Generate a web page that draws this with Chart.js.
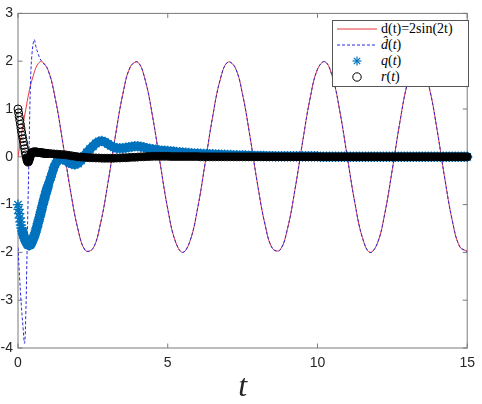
<!DOCTYPE html>
<html>
<head>
<meta charset="utf-8">
<script src="https://cdn.jsdelivr.net/npm/chart.js@4.4.0/dist/chart.umd.min.js"></script>
<style>
html, body { margin: 0; padding: 0; background: #fff; }
#wrap { position: relative; width: 482px; height: 404px; }
#legend {
    position: absolute; left: 332px; top: 20px; width: 135px; height: 65px;
    border: 1px solid #555; background: #fff;
    font-family: 'Liberation Serif', 'Times New Roman', serif; font-size: 14px; color: #000;
}
#legend .row { position: absolute; left: 0; width: 100%; height: 16px; }
#legend svg { position: absolute; left: 3px; top: 0; }
#legend span { position: absolute; left: 48px; top: 0; line-height: 16px; white-space: nowrap; }
</style>
</head>
<body>
<div id="wrap">
    <canvas id="chart" width="482" height="404"></canvas>
    <div id="legend">
        <div class="row" style="top:0px">
            <svg width="42" height="16"><line x1="1" y1="8" x2="41" y2="8" stroke="#e8383b" stroke-width="1"/></svg>
            <span>d(t)=2sin(2t)</span>
        </div>
        <div class="row" style="top:16px">
            <svg width="42" height="16"><line x1="1" y1="8" x2="41" y2="8" stroke="#2a2ae0" stroke-width="1" stroke-dasharray="3 2"/></svg>
            <span><i>d&#770;</i>(<i>t</i>)</span>
        </div>
        <div class="row" style="top:32px">
            <svg width="42" height="16">
                <g stroke="#0072BD" stroke-width="1.2">
                    <line x1="16.5" y1="8" x2="25.5" y2="8"/>
                    <line x1="21" y1="3.5" x2="21" y2="12.5"/>
                    <line x1="17.8" y1="4.8" x2="24.2" y2="11.2"/>
                    <line x1="17.8" y1="11.2" x2="24.2" y2="4.8"/>
                </g>
            </svg>
            <span><i>q</i>(<i>t</i>)</span>
        </div>
        <div class="row" style="top:48px">
            <svg width="42" height="16"><circle cx="21" cy="8" r="4.2" fill="none" stroke="#000" stroke-width="1"/></svg>
            <span><i>r</i>(<i>t</i>)</span>
        </div>
    </div>
</div>
<script>
// sampling grid helper (time axis only)
function steps(a, b, h) {
    const out = [];
    const n = Math.round((b - a) / h);
    for (let i = 0; i <= n; i++) out.push(Math.round((a + i * h) * 100) / 100);
    return out;
}

// d(t) = 2sin(2t), read every 0.25 s
const tD = steps(0, 15, 0.25);
const dVals = [0, 0.96, 1.68, 1.99, 1.82, 1.20, 0.28, -0.70, -1.51, -1.96,
    -1.92, -1.41, -0.56, 0.43, 1.31, 1.88, 1.98, 1.60, 0.82, -0.15,
    -1.09, -1.76, -2.00, -1.75, -1.07, -0.13, 0.84, 1.61, 1.98, 1.87,
    1.30, 0.41, -0.58, -1.42, -1.92, -1.95, -1.50, -0.68, 0.30, 1.21,
    1.83, 1.99, 1.67, 0.94, -0.02, -0.97, -1.69, -2.00, -1.81, -1.18,
    -0.26, 0.72, 1.53, 1.96, 1.91, 1.40, 0.54, -0.45, -1.33, -1.88, -1.98];

// d-hat(t): transient at the start, then it follows d(t) from t = 1
const tHatStart = [0, 0.06, 0.11, 0.16, 0.22, 0.26, 0.29, 0.33, 0.36, 0.41, 0.46, 0.54, 0.60, 0.66, 0.73, 0.80];
const dHatStart = [-1.9, -2.6, -3.1, -3.5, -3.9, -3.3, -2.4, -1.1, -0.2, 1.38, 2.1, 2.45, 2.3, 2.18, 2.06, 1.99];

// q(t) and r(t): fine samples on [0, 1], coarser after
const tFine = steps(0, 1, 0.02);
const tCoarse = steps(1.1, 15, 0.1);

const qFine = [-1.00, -1.10, -1.19, -1.28, -1.36, -1.43, -1.49, -1.55, -1.60, -1.64,
    -1.68, -1.71, -1.74, -1.77, -1.79, -1.81, -1.83, -1.84, -1.85, -1.85,
    -1.84, -1.83, -1.81, -1.78, -1.75, -1.72, -1.69, -1.66, -1.62, -1.58,
    -1.54, -1.49, -1.45, -1.40, -1.35, -1.31, -1.26, -1.21, -1.16, -1.11,
    -1.06, -1.01, -0.96, -0.91, -0.87, -0.82, -0.78, -0.73, -0.69, -0.65, -0.61];
const qCoarse = [-0.42, -0.22, -0.09, -0.04, -0.05, -0.08, -0.12, -0.15, -0.16, -0.14,
    -0.08, 0.01, 0.09, 0.16, 0.22, 0.28, 0.32, 0.33, 0.31, 0.27,
    0.23, 0.20, 0.18, 0.18, 0.18, 0.19, 0.20, 0.21, 0.22, 0.22,
    0.21, 0.20, 0.18, 0.17, 0.16, 0.15, 0.14, 0.13, 0.13, 0.12,
    0.115, 0.11, 0.10, 0.095, 0.09, 0.085, 0.08, 0.075, 0.07, 0.07,
    0.065, 0.06, 0.06, 0.055, 0.055, 0.05, 0.05, 0.045, 0.045, 0.04,
    0.04, 0.035, 0.035, 0.03, 0.03, 0.03, 0.025, 0.025, 0.02, 0.02,
    0.02, 0.02, 0.015, 0.015, 0.015, 0.01, 0.01, 0.01, 0.01, 0.01,
    0.01, 0.01, 0.01, 0.01, 0.01, 0.01, 0.01, 0.01, 0.01, 0.01,
    0, 0, 0, 0, 0, 0, 0, 0, 0, 0,
    0, 0, 0, 0, 0, 0, 0, 0, 0, 0,
    0, 0, 0, 0, 0, 0, 0, 0, 0, 0,
    0, 0, 0, 0, 0, 0, 0, 0, 0, 0,
    0, 0, 0, 0, 0, 0, 0, 0, 0, 0];

const rFine = [1.00, 0.92, 0.84, 0.76, 0.68, 0.60, 0.52, 0.45, 0.38, 0.31,
    0.24, 0.17, 0.10, 0.04, -0.02, -0.07, -0.10, -0.11, -0.09, -0.05,
    -0.01, 0.03, 0.06, 0.08, 0.09, 0.10, 0.10, 0.10, 0.10, 0.10,
    0.10, 0.10, 0.095, 0.095, 0.09, 0.09, 0.09, 0.085, 0.085, 0.085,
    0.08, 0.08, 0.08, 0.075, 0.075, 0.075, 0.07, 0.07, 0.07, 0.07, 0.07];
const rCoarse = [0.065, 0.06, 0.055, 0.05, 0.045, 0.04, 0.03, 0.02, 0.01, 0.0,
    -0.005, -0.01, -0.015, -0.02, -0.02, -0.025, -0.025, -0.03, -0.03, -0.03,
    -0.03, -0.03, -0.025, -0.025, -0.02, -0.02, -0.015, -0.01, -0.01, -0.005,
    0, 0, 0.005, 0.005, 0.01, 0.01, 0.01, 0.01, 0.01, 0.01,
    0.005, 0.005, 0.005, 0.005, 0.005, 0.005, 0.005, 0.005, 0.005, 0.005,
    0, 0, 0, 0, 0, 0, 0, 0, 0, 0,
    0, 0, 0, 0, 0, 0, 0, 0, 0, 0,
    0, 0, 0, 0, 0, 0, 0, 0, 0, 0,
    0, 0, 0, 0, 0, 0, 0, 0, 0, 0,
    0, 0, 0, 0, 0, 0, 0, 0, 0, 0,
    0, 0, 0, 0, 0, 0, 0, 0, 0, 0,
    0, 0, 0, 0, 0, 0, 0, 0, 0, 0,
    0, 0, 0, 0, 0, 0, 0, 0, 0, 0,
    0, 0, 0, 0, 0, 0, 0, 0, 0, 0];

// axis ranges / ticks
const xTicks = [0, 5, 10, 15];
const yTicks = [-4, -3, -2, -1, 0, 1, 2, 3];

const zip = (xs, ys) => xs.map((x, i) => ({ x: x, y: ys[i] }));

const dData = zip(tD, dVals);
const dHatData = zip(tHatStart, dHatStart).concat(dData.filter(p => p.x >= 1));
const qData = zip(tFine.concat(tCoarse), qFine.concat(qCoarse));
const rData = zip(tFine.concat(tCoarse), rFine.concat(rCoarse));

const blueQ = '#0072BD';
const axisGray = '#7a7a7a';
const textColor = '#262626';

// dense markers form a band: fill it with a thick line,
// except in the fine part where consecutive markers are clearly apart
function bandColor(color) {
    return (ctx) => {
        const dy = Math.abs(ctx.p1.y - ctx.p0.y);
        const dx = Math.abs(ctx.p1.x - ctx.p0.x);
        return (dy > 2.7 && dx < 1.5) ? 'rgba(0,0,0,0)' : color;
    };
}

// box around the plot with inward ticks (MATLAB style)
const boxPlugin = {
    id: 'boxPlugin',
    beforeDatasetsDraw(chart) {
        const { ctx, chartArea: a, scales } = chart;
        const len = 4.5;
        ctx.save();
        ctx.strokeStyle = axisGray;
        ctx.lineWidth = 1;
        ctx.strokeRect(a.left, a.top, a.right - a.left, a.bottom - a.top);
        ctx.beginPath();
        xTicks.forEach(v => {
            const px = scales.x.getPixelForValue(v);
            ctx.moveTo(px, a.bottom); ctx.lineTo(px, a.bottom - len);
            ctx.moveTo(px, a.top); ctx.lineTo(px, a.top + len);
        });
        yTicks.forEach(v => {
            const py = scales.y.getPixelForValue(v);
            ctx.moveTo(a.left, py); ctx.lineTo(a.left + len, py);
            ctx.moveTo(a.right, py); ctx.lineTo(a.right - len, py);
        });
        ctx.stroke();
        ctx.restore();
    }
};

const chart = new Chart(document.getElementById('chart').getContext('2d'), {
    type: 'line',
    data: {
        datasets: [
            {
                label: 'd(t)=2sin(2t)',
                data: dData,
                borderColor: '#e8383b',
                borderWidth: 1,
                pointRadius: 0,
                tension: 0.4,
                order: 4
            },
            {
                label: 'd-hat(t)',
                data: dHatData,
                borderColor: '#2a2ae0',
                borderWidth: 1,
                borderDash: [3, 2],
                pointRadius: 0,
                tension: 0.4,
                order: 3
            },
            {
                label: 'q(t)',
                data: qData,
                showLine: true,
                borderWidth: 9,
                borderCapStyle: 'round',
                borderJoinStyle: 'round',
                segment: { borderColor: bandColor(blueQ) },
                borderColor: blueQ,
                pointStyle: 'star',
                pointRadius: 5.2,
                pointBorderWidth: 1.3,
                pointBorderColor: blueQ,
                pointBackgroundColor: blueQ,
                tension: 0,
                clip: false,
                order: 2
            },
            {
                label: 'r(t)',
                data: rData,
                showLine: true,
                borderWidth: 7,
                borderCapStyle: 'round',
                borderJoinStyle: 'round',
                segment: { borderColor: bandColor('#000') },
                borderColor: '#000',
                pointStyle: 'circle',
                pointRadius: 4,
                pointBorderWidth: 1,
                pointBorderColor: '#000',
                pointBackgroundColor: 'rgba(0,0,0,0)',
                tension: 0,
                clip: false,
                order: 1
            }
        ]
    },
    options: {
        responsive: false,
        animation: false,
        events: [],
        layout: { padding: { top: 8, right: 12.5, left: 0, bottom: 0 } },
        plugins: {
            legend: { display: false },
            tooltip: { enabled: false }
        },
        scales: {
            x: {
                type: 'linear',
                min: 0,
                max: 15,
                afterFit: (s) => { s.height = 56; },
                afterBuildTicks: (s) => { s.ticks = xTicks.map(v => ({ value: v })); },
                grid: { display: false, drawTicks: false },
                border: { display: false },
                ticks: {
                    padding: 7,
                    color: textColor,
                    font: { family: "'Liberation Sans', Arial, sans-serif", size: 14 }
                },
                title: {
                    display: true,
                    text: 't',
                    color: textColor,
                    padding: { top: 0, bottom: 0 },
                    font: { family: "'Liberation Serif', 'Times New Roman', serif", size: 32, style: 'italic', lineHeight: 1 }
                }
            },
            y: {
                type: 'linear',
                min: -4,
                max: 3,
                afterFit: (s) => { s.width = 18; },
                afterBuildTicks: (s) => { s.ticks = yTicks.map(v => ({ value: v })); },
                grid: { display: false, drawTicks: false },
                border: { display: false },
                ticks: {
                    padding: 5,
                    color: textColor,
                    font: { family: "'Liberation Sans', Arial, sans-serif", size: 14 }
                }
            }
        }
    },
    plugins: [boxPlugin]
});
</script>
</body>
</html>
